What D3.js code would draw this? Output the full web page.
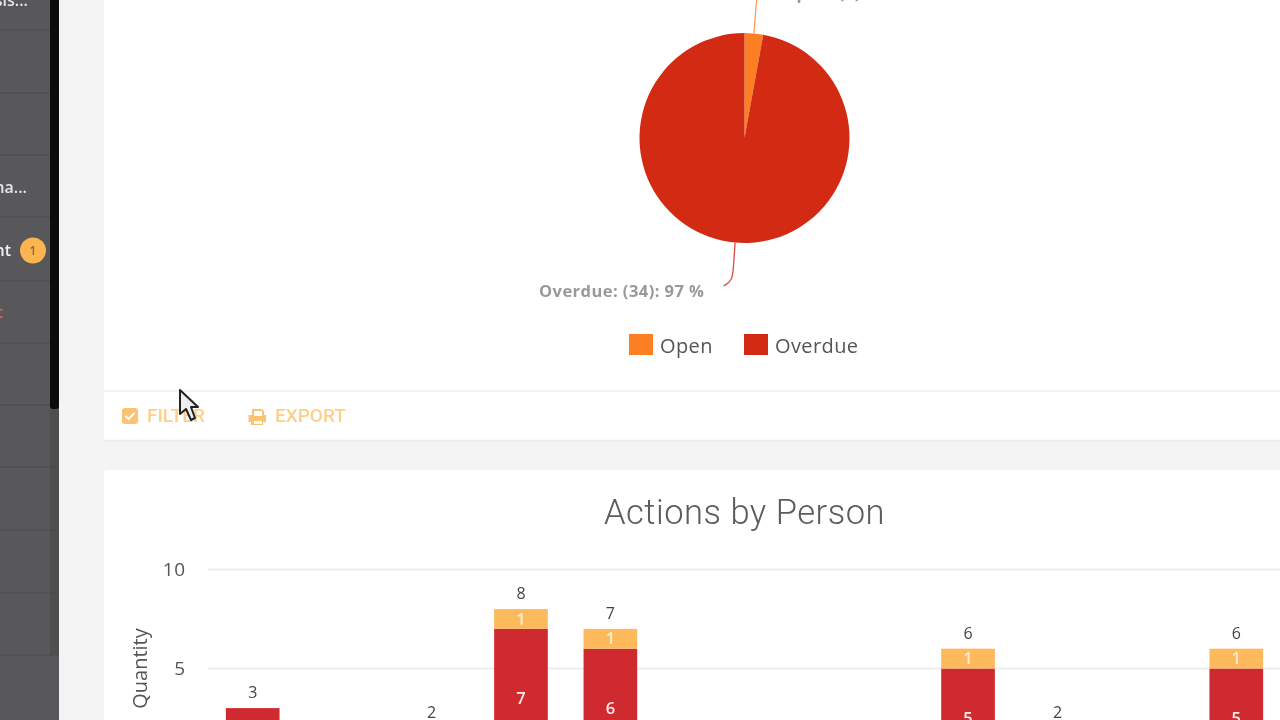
<!DOCTYPE html>
<html>
<head>
<meta charset="utf-8">
<script src="https://cdnjs.cloudflare.com/ajax/libs/d3/7.8.5/d3.min.js"></script>
<style>
html, body { margin: 0; padding: 0; background: #f3f3f3; overflow: hidden; }
svg { display: block; filter: blur(0.6px); }
text { font-family: "Open Sans", sans-serif; }
</style>
</head>
<body>
<svg id="chart" width="1280" height="720"></svg>
<script>
// pie
var statusNames = ["Open", "Overdue"];
var statusValues = [1, 34];
var statusPercents = [3, 97];
var statusColors = ["#fd7f23", "#d22a13"];

// stacked bars, only the top of this chart is on screen
var people = ["p1", "p2", "p3", "p4", "p5", "p6", "p7", "p8", "p9", "p10", "p11", "p12"];
var overdueByPerson = [3, 0, 2, 7, 6, 0, 0, 0, 5, 2, 0, 5];
var openByPerson = [0, 0, 0, 1, 1, 0, 0, 0, 1, 0, 0, 1];
var yTicks = [0, 5, 10];

// sidebar
var sidebarRows = [30, 93, 155, 217, 281, 343, 405, 467, 530, 593, 655];

var svg = d3.select("#chart");

//---- page background and cards
svg.append("rect").attr("x", 59).attr("width", 1221).attr("height", 720).attr("fill", "#f3f3f3");
svg.append("rect").attr("x", 104).attr("y", -10).attr("width", 1190).attr("height", 450).attr("rx", 3).attr("fill", "#fff");
svg.append("rect").attr("x", 104).attr("y", 470).attr("width", 1190).attr("height", 260).attr("rx", 3).attr("fill", "#fff");
svg.append("line").attr("x1", 104).attr("x2", 1280).attr("y1", 391).attr("y2", 391).attr("stroke", "#efefef").attr("stroke-width", 1.5);
svg.append("line").attr("x1", 104).attr("x2", 1280).attr("y1", 440.5).attr("y2", 440.5).attr("stroke", "#ececec").attr("stroke-width", 1.5);

//---- sidebar
svg.append("rect").attr("width", 59).attr("height", 720).attr("fill", "#58585a");
svg.append("rect").attr("x", 50).attr("width", 9).attr("height", 655).attr("fill", "#4f4f50");
svg.append("rect").attr("x", 50).attr("y", -5).attr("width", 9).attr("height", 414).attr("rx", 3).attr("fill", "#0b0b0c");
svg.selectAll(".row").data(sidebarRows).enter().append("line")
    .attr("class", "row")
    .attr("x1", 0)
    .attr("x2", function(d) { return d < 410 ? 50 : 59 })
    .attr("y1", function(d) { return d })
    .attr("y2", function(d) { return d })
    .attr("stroke", "#4a4a4b")
    .attr("stroke-width", 1);

function sideText(t, x, y, color) {
    svg.append("text").attr("x", x).attr("y", y).attr("text-anchor", "end")
        .attr("font-size", 16).attr("font-weight", 600).attr("fill", color).text(t);
}
sideText("Analysis...", 28, 6, "#e6e6e6");
sideText("Managema...", 27, 193, "#e6e6e6");
sideText("Assignment", 11, 256, "#f1f1f1");
sideText("Alert", 3, 318, "#e8595a");
svg.append("circle").attr("cx", 33).attr("cy", 250.5).attr("r", 13).attr("fill", "#fbb44f");
svg.append("text").attr("x", 33).attr("y", 255).attr("text-anchor", "middle")
    .attr("font-size", 12).attr("font-weight", 600).attr("fill", "#8a6a32").text("1");

//---- pie
var cx = 744.5, cy = 138, radius = 105;
var pieGroup = svg.append("g").attr("transform", "translate(" + cx + "," + cy + ")");
var arc = d3.arc().innerRadius(0).outerRadius(radius);
var slices = d3.pie().sort(null)(statusValues);

pieGroup.selectAll("path.slice").data(slices).enter().append("path")
    .attr("class", "slice")
    .attr("d", arc)
    .attr("fill", function(d, i) { return statusColors[i] });

// leader lines start on the rim, at the middle of each slice
function rim(d) {
    var a = (d.startAngle + d.endAngle) / 2;
    return [radius * Math.sin(a), -radius * Math.cos(a)];
}
var leaderEnds = [[[11, -125], [13, -150], [22, -165]], [[-11, 128], [-12, 143], [-21, 148]]];
var leader = d3.line().curve(d3.curveBasis);
pieGroup.selectAll("path.leader").data(slices).enter().append("path")
    .attr("class", "leader")
    .attr("d", function(d, i) { return leader([rim(d)].concat(leaderEnds[i])) })
    .attr("fill", "none")
    .attr("stroke", function(d, i) { return i == 0 ? "#fd9a55" : "#de4a45" })
    .attr("stroke-width", 1.3);

function pieLabel(i) {
    return statusNames[i] + ": (" + statusValues[i] + "): " + statusPercents[i] + " %";
}
svg.append("text").attr("x", 783).attr("y", -1).attr("font-size", 16.5).attr("font-weight", 700)
    .attr("letter-spacing", 0.45).attr("fill", "#999").text(pieLabel(0));
svg.append("text").attr("x", 539).attr("y", 296.5).attr("font-size", 16.5).attr("font-weight", 700)
    .attr("letter-spacing", 0.45).attr("fill", "#999").text(pieLabel(1));

// legend
var legendX = [629, 744];
var legend = svg.selectAll(".legend").data(statusNames).enter().append("g")
    .attr("class", "legend")
    .attr("transform", function(d, i) { return "translate(" + legendX[i] + ",334)" });
legend.append("rect").attr("width", 24).attr("height", 21)
    .attr("fill", function(d, i) { return statusColors[i] });
legend.append("text").attr("x", 31).attr("y", 18.5).attr("font-size", 20)
    .attr("letter-spacing", 0.4).attr("fill", "#555").text(function(d) { return d });

//---- card buttons
var buttonColor = "#fdcf8b";
svg.append("rect").attr("x", 122).attr("y", 408).attr("width", 16).attr("height", 16).attr("rx", 3).attr("fill", "#fcc274");
svg.append("path").attr("d", "M125.5,416 l3,3 l6,-6").attr("fill", "none").attr("stroke", "#fff").attr("stroke-width", 2);
svg.append("text").attr("x", 147).attr("y", 422).style("font-family", "Roboto")
    .attr("font-size", 19).attr("font-weight", 500).attr("fill", buttonColor).text("FILTER");
svg.append("path")
    .attr("d", "M252,415 v-6 h10 l2,2 v4 h2 v7 h-3 v3 h-12 v-3 h-2.5 v-7 z M254,411 v5 h8 v-5 z M254,421 v3 h8 v-3 z")
    .attr("fill", "#fcc274").attr("fill-rule", "evenodd");
svg.append("text").attr("x", 275).attr("y", 422).style("font-family", "Roboto")
    .attr("font-size", 19).attr("font-weight", 500).attr("fill", buttonColor).text("EXPORT");

//---- bar chart
svg.append("text").attr("x", 744.5).attr("y", 524).attr("text-anchor", "middle").style("font-family", "Roboto")
    .attr("font-size", 34.5).attr("font-weight", 300).attr("letter-spacing", 0.5).attr("fill", "#5c5c5c").text("Actions by Person");

var x = d3.scaleBand().domain(people).range([208, 1281]).paddingInner(0.4).paddingOuter(0.2);
var y = d3.scaleLinear().domain([0, 10]).range([767, 569]);

var yAxis = d3.axisLeft(y).tickValues(yTicks).tickSize(-(1280 - 208)).tickPadding(22);
var axisG = svg.append("g").attr("transform", "translate(208,0)").call(yAxis);
axisG.select(".domain").remove();
axisG.selectAll("line").attr("stroke", "#eeeeee").attr("stroke-width", 2);
axisG.selectAll("text").attr("font-size", 19).attr("letter-spacing", 0.8).attr("dy", "0.32em").attr("fill", "#555").style("font-family", "'Open Sans'");

svg.append("text").attr("transform", "translate(147,668.5) rotate(-90)").attr("text-anchor", "middle")
    .attr("font-size", 20).attr("fill", "#555").text("Quantity");

var rows = people.map(function(p, i) {
    return { person: p, overdue: overdueByPerson[i], open: openByPerson[i] };
});
var stack = d3.stack().keys(["overdue", "open"])(rows);
var barColors = ["#cf2a2f", "#fdb95c"];

var layers = svg.selectAll(".layer").data(stack).enter().append("g")
    .attr("class", "layer")
    .attr("fill", function(d, i) { return barColors[i] });

layers.selectAll("rect").data(function(d) { return d }).enter().append("rect")
    .attr("x", function(d) { return x(d.data.person) })
    .attr("width", x.bandwidth())
    .attr("y", function(d) { return y(d[1]) + 0.5 })
    .attr("height", function(d) { return y(d[0]) - y(d[1]) });

layers.selectAll("text").data(function(d) { return d.filter(function(s) { return s[1] > s[0] }) }).enter().append("text")
    .attr("x", function(d) { return x(d.data.person) + x.bandwidth() / 2 })
    .attr("y", function(d) { return (y(d[0]) + y(d[1])) / 2 + 6 })
    .attr("text-anchor", "middle")
    .attr("font-size", 16.5)
    .attr("font-weight", 600)
    .attr("fill", "#fff")
    .attr("fill-opacity", function(d) { return d[1] - d[0] == 1 && d[0] > 0 ? 0.72 : 0.9 })
    .text(function(d) { return d[1] - d[0] });

svg.selectAll(".total").data(rows.filter(function(d) { return d.overdue + d.open > 0 })).enter().append("text")
    .attr("class", "total")
    .attr("x", function(d) { return x(d.person) + x.bandwidth() / 2 })
    .attr("y", function(d) { return y(d.overdue + d.open) - 9.5 })
    .attr("text-anchor", "middle")
    .attr("font-size", 16)
    .attr("fill", "#444")
    .text(function(d) { return d.overdue + d.open });

//---- mouse pointer from the screen recording
svg.append("path")
    .attr("d", "M180,390 L180,414 L186,409 L191,420 L195,418 L191,407 L198,407 Z")
    .attr("fill", "#eee").attr("stroke", "#222").attr("stroke-width", 2).attr("stroke-linejoin", "round");
</script>
</body>
</html>
